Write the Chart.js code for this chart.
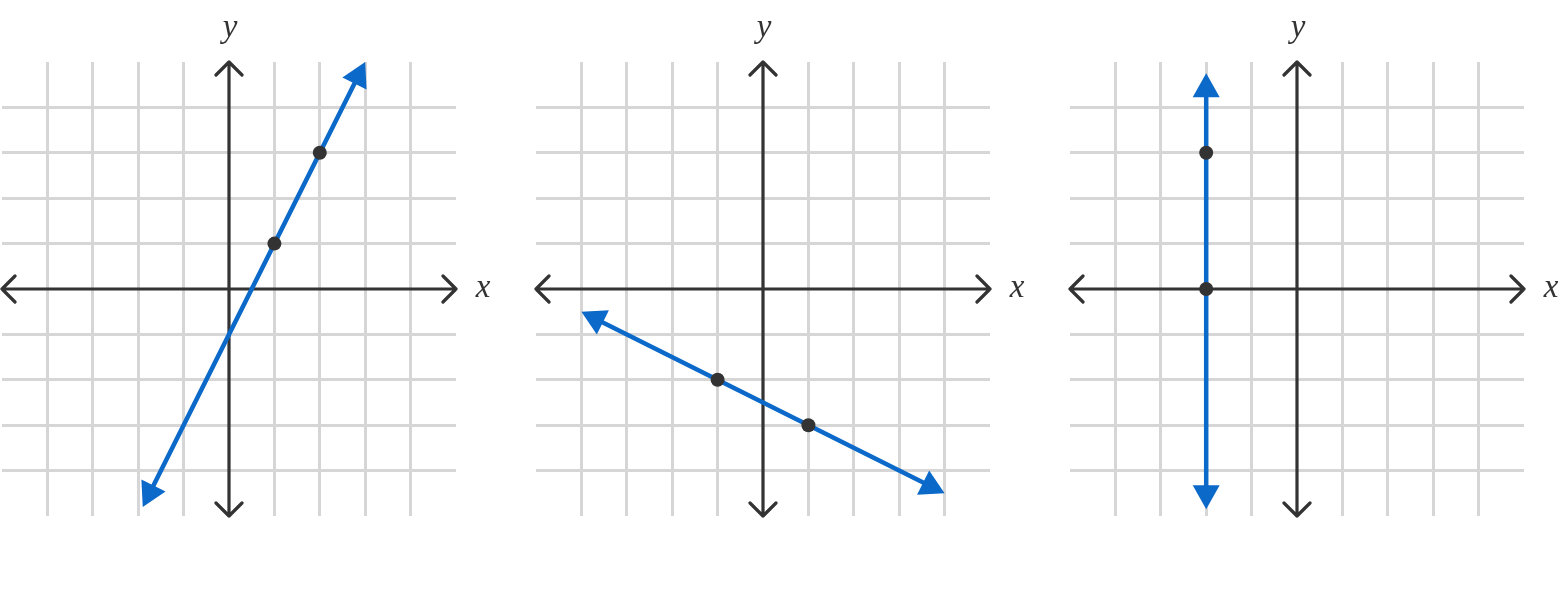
<!DOCTYPE html>
<html>
<head>
<meta charset="utf-8">
<script src="https://cdn.jsdelivr.net/npm/chart.js@4.4.1/dist/chart.umd.min.js"></script>
<style>
  html, body { margin: 0; padding: 0; background: #fff; overflow: hidden; }
  .wrap { position: relative; width: 1560px; height: 607px; }
  .wrap canvas { position: absolute; top: 0; }
</style>
</head>
<body>
<div class="wrap">
  <canvas id="panel1" width="492" height="607" style="left:0px"></canvas>
  <canvas id="panel2" width="492" height="607" style="left:534px"></canvas>
  <canvas id="panel3" width="492" height="607" style="left:1068px"></canvas>
</div>
<script>
// grid range, same for every panel
const axisMin = -5;
const axisMax = 5;

// panel 1: y = 2x - 1
const panel1Line = [{ x: -1.9, y: -4.8 }, { x: 3, y: 5 }];
const panel1Points = [{ x: 1, y: 1 }, { x: 2, y: 3 }];

// panel 2: y = -x/2 - 2.5
const panel2Line = [{ x: -4, y: -0.5 }, { x: 4, y: -4.5 }];
const panel2Points = [{ x: -1, y: -2 }, { x: 1, y: -3 }];

// panel 3: x = -2
const panel3Line = [{ x: -2, y: -4.85 }, { x: -2, y: 4.75 }];
const panel3Points = [{ x: -2, y: 3 }, { x: -2, y: 0 }];

const BLUE = '#0b69c9';
const DARK = '#333333';
const GRID = '#d6d6d6';

// axes with open chevrons at both ends + the x / y labels
const axesPlugin = {
  id: 'axes',
  beforeDatasetsDraw(chart) {
    const { ctx, chartArea: a, scales } = chart;
    const x0 = scales.x.getPixelForValue(0);
    const y0 = scales.y.getPixelForValue(0);
    const arm = 13;
    ctx.save();
    ctx.strokeStyle = DARK;
    ctx.lineWidth = 3.2;
    ctx.lineCap = 'round';
    ctx.lineJoin = 'round';
    ctx.beginPath();
    ctx.moveTo(a.left, y0); ctx.lineTo(a.right, y0);
    ctx.moveTo(x0, a.top); ctx.lineTo(x0, a.bottom);
    // chevrons
    ctx.moveTo(a.left + arm, y0 - arm); ctx.lineTo(a.left, y0); ctx.lineTo(a.left + arm, y0 + arm);
    ctx.moveTo(a.right - arm, y0 - arm); ctx.lineTo(a.right, y0); ctx.lineTo(a.right - arm, y0 + arm);
    ctx.moveTo(x0 - arm, a.top + arm); ctx.lineTo(x0, a.top); ctx.lineTo(x0 + arm, a.top + arm);
    ctx.moveTo(x0 - arm, a.bottom - arm); ctx.lineTo(x0, a.bottom); ctx.lineTo(x0 + arm, a.bottom - arm);
    ctx.stroke();

    ctx.fillStyle = DARK;
    ctx.font = 'italic 33px "Liberation Serif", serif';
    ctx.textAlign = 'center';
    ctx.textBaseline = 'alphabetic';
    ctx.fillText('x', a.right + 27, y0 + 8);
    ctx.fillText('y', x0 + 1, a.top - 25);
    ctx.restore();
  }
};

// filled arrowheads on both ends of the blue line;
// the stroked line is pulled back a little so it does not poke past the tips
const HEAD_LEN = 24, HEAD_HALF = 13.5;
const arrowPlugin = {
  id: 'arrowheads',
  beforeDatasetsDraw(chart) {
    const pts = chart.getDatasetMeta(1).data;
    if (pts.length < 2) return;
    const a = { x: pts[0].x, y: pts[0].y };
    const b = { x: pts[1].x, y: pts[1].y };
    chart.$tips = [a, b];
    const d = Math.hypot(b.x - a.x, b.y - a.y);
    const ux = (b.x - a.x) / d, uy = (b.y - a.y) / d;
    const pull = 10;
    pts[0].x = a.x + ux * pull; pts[0].y = a.y + uy * pull;
    pts[1].x = b.x - ux * pull; pts[1].y = b.y - uy * pull;
  },
  afterDatasetsDraw(chart) {
    const tips = chart.$tips;
    if (!tips) return;
    const { ctx } = chart;
    const head = (tip, from) => {
      const dx = tip.x - from.x, dy = tip.y - from.y;
      const d = Math.hypot(dx, dy);
      const ux = dx / d, uy = dy / d;
      const bx = tip.x - ux * HEAD_LEN, by = tip.y - uy * HEAD_LEN;
      ctx.beginPath();
      ctx.moveTo(tip.x, tip.y);
      ctx.lineTo(bx - uy * HEAD_HALF, by + ux * HEAD_HALF);
      ctx.lineTo(bx + uy * HEAD_HALF, by - ux * HEAD_HALF);
      ctx.closePath();
      ctx.fill();
    };
    ctx.save();
    ctx.fillStyle = BLUE;
    head(tips[0], tips[1]);
    head(tips[1], tips[0]);
    ctx.restore();
  }
};

const gridColor = c => (Math.abs(c.tick.value) === 5 || c.tick.value === 0) ? 'rgba(0,0,0,0)' : GRID;

function makePanel(id, lineData, pointData) {
  const ctx = document.getElementById(id).getContext('2d');
  return new Chart(ctx, {
    type: 'scatter',
    data: {
      datasets: [
        {
          label: 'points',
          data: pointData,
          pointRadius: 7,
          pointBackgroundColor: DARK,
          pointBorderWidth: 0,
          order: 0
        },
        {
          label: 'line',
          data: lineData,
          showLine: true,
          borderColor: BLUE,
          borderWidth: 4.5,
          borderCapStyle: 'butt',
          pointRadius: 0,
          order: 1
        }
      ]
    },
    options: {
      responsive: false,
      animation: false,
      devicePixelRatio: 1,
      events: [],
      layout: { autoPadding: false, padding: { left: 2, right: 36, top: 62, bottom: 91 } },
      plugins: { legend: { display: false }, tooltip: { enabled: false } },
      scales: {
        x: {
          type: 'linear',
          min: axisMin,
          max: axisMax,
          ticks: { display: false, stepSize: 1 },
          border: { display: false },
          grid: { drawTicks: false, lineWidth: 3, color: gridColor },
          afterFit: s => { s.height = 0; }
        },
        y: {
          type: 'linear',
          min: axisMin,
          max: axisMax,
          ticks: { display: false, stepSize: 1 },
          border: { display: false },
          grid: { drawTicks: false, lineWidth: 3, color: gridColor },
          afterFit: s => { s.width = 0; }
        }
      }
    },
    plugins: [axesPlugin, arrowPlugin]
  });
}

makePanel('panel1', panel1Line, panel1Points);
makePanel('panel2', panel2Line, panel2Points);
makePanel('panel3', panel3Line, panel3Points);
</script>
</body>
</html>
